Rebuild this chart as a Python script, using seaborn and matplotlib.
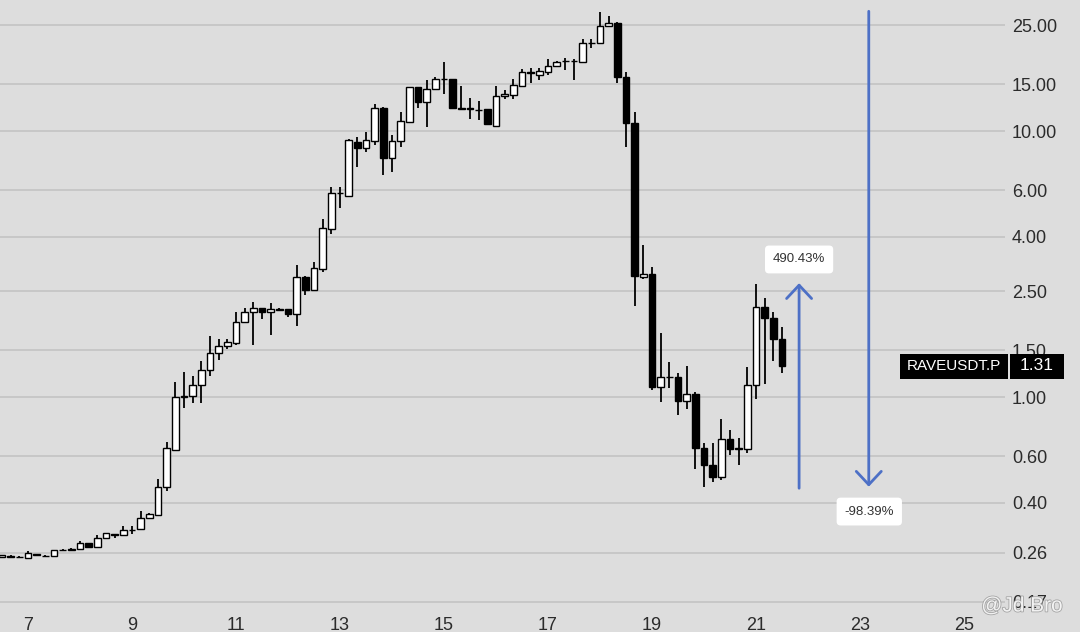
import numpy as np
import pandas as pd
import matplotlib
matplotlib.use("Agg")
import matplotlib.pyplot as plt
import matplotlib.patheffects as pe
from matplotlib.patches import Rectangle
import seaborn as sns

# ---------------- data (4h candles, RAVEUSDT.P) ----------------
start_day = 6.5          # first candle: day 6, 12:00
step_days = 1 / 6        # 4-hour candles

opens = [0.250, 0.253, 0.251, 0.248, 0.256, 0.253, 0.2525, 0.265, 0.267, 0.268,
         0.282, 0.274, 0.295, 0.306, 0.303, 0.317, 0.319, 0.350, 0.360, 0.458,
         0.632, 1.00, 1.01, 1.11, 1.26, 1.47, 1.55, 1.59, 1.91, 2.08,
         2.16, 2.08, 2.13, 2.14, 2.06, 2.82, 2.53, 3.02, 4.30, 5.86,
         5.71, 9.12, 8.61, 9.20, 12.24, 7.90, 9.17, 10.84, 14.60, 12.89,
         14.38, 15.64, 15.64, 12.20, 12.17, 12.05, 12.07, 10.47, 13.60, 13.65,
         14.76, 16.62, 16.24, 16.71, 17.56, 18.30, 18.38, 18.22, 21.37, 21.48,
         24.88, 25.53, 15.92, 10.69, 2.83, 2.90, 1.09, 1.19, 1.19, 0.968,
         1.03, 0.641, 0.555, 0.500, 0.693, 0.640, 0.636, 1.11, 2.18, 1.99,
         1.65]
highs = [0.255, 0.254, 0.252, 0.264, 0.257, 0.254, 0.266, 0.268, 0.270, 0.288,
         0.283, 0.303, 0.309, 0.306, 0.327, 0.326, 0.373, 0.365, 0.490, 0.679,
         1.14, 1.24, 1.20, 1.37, 1.70, 1.65, 1.65, 2.08, 2.17, 2.28,
         2.17, 2.26, 2.16, 2.15, 3.14, 2.84, 3.23, 4.67, 6.17, 6.17,
         9.33, 9.52, 9.94, 12.60, 12.30, 9.66, 11.76, 14.70, 14.65, 15.55,
         16.00, 18.22, 15.70, 14.76, 13.35, 12.96, 12.10, 14.76, 14.26, 15.69,
         17.10, 17.30, 17.21, 18.60, 18.30, 18.86, 18.60, 22.12, 22.12, 28.0,
         27.05, 25.60, 16.71, 11.82, 3.73, 3.09, 1.74, 1.35, 1.23, 1.31,
         1.04, 0.670, 0.670, 0.827, 0.751, 0.700, 1.30, 2.66, 2.35, 2.09,
         1.84]
lows = [0.249, 0.250, 0.249, 0.248, 0.254, 0.252, 0.252, 0.264, 0.266, 0.267,
        0.272, 0.273, 0.294, 0.296, 0.302, 0.305, 0.318, 0.349, 0.358, 0.444,
        0.628, 0.91, 0.95, 0.95, 1.20, 1.38, 1.52, 1.57, 1.89, 1.57,
        1.96, 1.71, 2.12, 2.00, 1.85, 2.42, 2.50, 2.94, 4.10, 5.15,
        5.65, 7.30, 8.36, 8.86, 6.83, 7.03, 8.69, 10.80, 12.17, 10.38,
        14.30, 13.74, 12.10, 12.07, 11.07, 11.00, 10.55, 10.33, 13.19, 13.19,
        14.70, 15.19, 15.55, 16.24, 17.50, 16.96, 15.55, 18.10, 20.46, 21.40,
        24.80, 15.11, 8.73, 2.20, 2.77, 1.06, 0.96, 1.08, 0.856, 0.90,
        0.535, 0.460, 0.480, 0.488, 0.605, 0.555, 0.614, 0.98, 1.12, 1.37,
        1.23]
closes = [0.254, 0.251, 0.250, 0.259, 0.255, 0.252, 0.265, 0.266, 0.268, 0.282,
          0.273, 0.296, 0.307, 0.304, 0.316, 0.315, 0.352, 0.362, 0.458, 0.641,
          1.00, 1.01, 1.11, 1.26, 1.47, 1.55, 1.61, 1.91, 2.08, 2.16,
          2.08, 2.14, 2.14, 2.06, 2.82, 2.53, 3.05, 4.33, 5.86, 5.83,
          9.25, 8.61, 9.25, 12.17, 7.90, 9.20, 10.91, 14.60, 12.89, 14.35,
          15.69, 15.69, 12.17, 12.12, 12.10, 11.99, 10.62, 13.57, 13.74, 14.89,
          16.62, 16.55, 16.81, 17.60, 18.22, 18.38, 18.35, 21.37, 21.48, 24.88,
          25.53, 15.92, 10.69, 2.85, 2.90, 1.09, 1.19, 1.19, 0.968, 1.03,
          0.641, 0.555, 0.502, 0.693, 0.636, 0.641, 1.11, 2.18, 1.99, 1.65,
          1.31]

y_ticks = [0.17, 0.26, 0.40, 0.60, 1.00, 1.50, 2.50, 4.00, 6.00, 10.00, 15.00, 25.00]
x_ticks = [7, 9, 11, 13, 15, 17, 19, 21, 23, 25]

symbol = "RAVEUSDT.P"
last_price = "1.31"

# measurement annotations
rise_low, rise_high, rise_day = 0.454, 2.68, 21.83
drop_top, drop_low, drop_day = 28.2, 0.460, 23.17
rise_label, rise_label_y = "490.43%", 3.29
drop_label, drop_label_y = "-98.39%", 0.371

# ---------------- styling ----------------
sns.set_theme(style="white")
plt.rcParams["font.family"] = ["Liberation Sans", "DejaVu Sans"]

bg = "#dddddd"
grid_c = "#c7c7c7"
txt_c = "#2b2b2b"
blue = "#4d70c6"

df = pd.DataFrame({"open": opens, "high": highs, "low": lows, "close": closes})
df["t"] = start_day + np.arange(len(df)) * step_days
df["up"] = df["close"] >= df["open"]
df["body_lo"] = df[["open", "close"]].min(axis=1)
df["body_h"] = (df["close"] - df["open"]).abs()

fig = plt.figure(figsize=(10.8, 6.32), dpi=100, facecolor=bg)
ax = fig.add_axes([0, 20 / 632, 1005 / 1080, 612 / 632], facecolor=bg)

ax.set_yscale("log")
ax.set_xlim(6.4615, 25.79)
ax.set_ylim(0.1555, 31.1)

# wicks
ax.vlines(df["t"], df["low"], df["high"], color="black", lw=1.3, zorder=2)
# bodies
face = np.where(df["up"], "white", "black")
ax.bar(df["t"], df["body_h"], bottom=df["body_lo"], width=0.13,
       color=face, edgecolor="black", linewidth=1.0, zorder=3)

# axes & grid
ax.yaxis.tick_right()
ax.set_yticks(y_ticks)
ax.set_yticklabels([f"{v:.2f}" for v in y_ticks])
ax.yaxis.set_minor_locator(matplotlib.ticker.NullLocator())
ax.set_xticks(x_ticks)
ax.set_xticklabels([str(v) for v in x_ticks])
ax.grid(axis="y", color=grid_c, lw=1.4)
ax.grid(axis="x", visible=False)
ax.tick_params(axis="y", length=0, pad=5, labelsize=13, labelcolor=txt_c)
ax.tick_params(axis="x", length=0, pad=3.5, labelsize=13, labelcolor=txt_c)
for s in ax.spines.values():
    s.set_visible(False)

# arrows
arrow_style = "->,head_length=0.8,head_width=0.75"
ax.annotate("", xy=(rise_day, rise_high), xytext=(rise_day, rise_low),
            arrowprops=dict(arrowstyle=arrow_style, color=blue, lw=2.0,
                            shrinkA=0, shrinkB=0, mutation_scale=12), zorder=5)
ax.annotate("", xy=(drop_day, drop_low), xytext=(drop_day, drop_top),
            arrowprops=dict(arrowstyle=arrow_style, color=blue, lw=2.0,
                            shrinkA=0, shrinkB=0, mutation_scale=12), zorder=5)

box = dict(boxstyle="round,pad=0.6,rounding_size=0.3", fc="white", ec="none")
ax.text(rise_day, rise_label_y, rise_label, ha="center", va="center",
        fontsize=9.5, color="#333333", bbox=box, zorder=6)
ax.text(drop_day + 0.01, drop_label_y, drop_label, ha="center", va="center",
        fontsize=9.5, color="#333333", bbox=box, zorder=6)

# last price tag (over the axis labels)
def fx(px):
    return px / 1080

def fy(py):
    return 1 - py / 632

tag_top, tag_bot = 353.5, 378.5
fig.add_artist(Rectangle((fx(900), fy(tag_bot)), fx(1008) - fx(900), fy(tag_top) - fy(tag_bot),
                         transform=fig.transFigure, fc="black", ec="none", zorder=10))
fig.add_artist(Rectangle((fx(1009.5), fy(tag_bot)), fx(1064) - fx(1009.5), fy(tag_top) - fy(tag_bot),
                         transform=fig.transFigure, fc="black", ec="none", zorder=10))
fig.text(fx(954), fy(366), symbol, color="white", fontsize=11, ha="center",
         va="center", zorder=11)
fig.text(fx(1036.5), fy(366), last_price, color="white", fontsize=12.5, ha="center",
         va="center", zorder=11)

# watermark
fig.text(fx(1022), fy(606), "@Jd Bro", color="white", alpha=0.85, fontsize=15,
         ha="center", va="center", zorder=12,
         path_effects=[pe.withStroke(linewidth=1.2, foreground="#9a9a9a")])

fig.savefig("out.png", dpi=100, facecolor=bg)
